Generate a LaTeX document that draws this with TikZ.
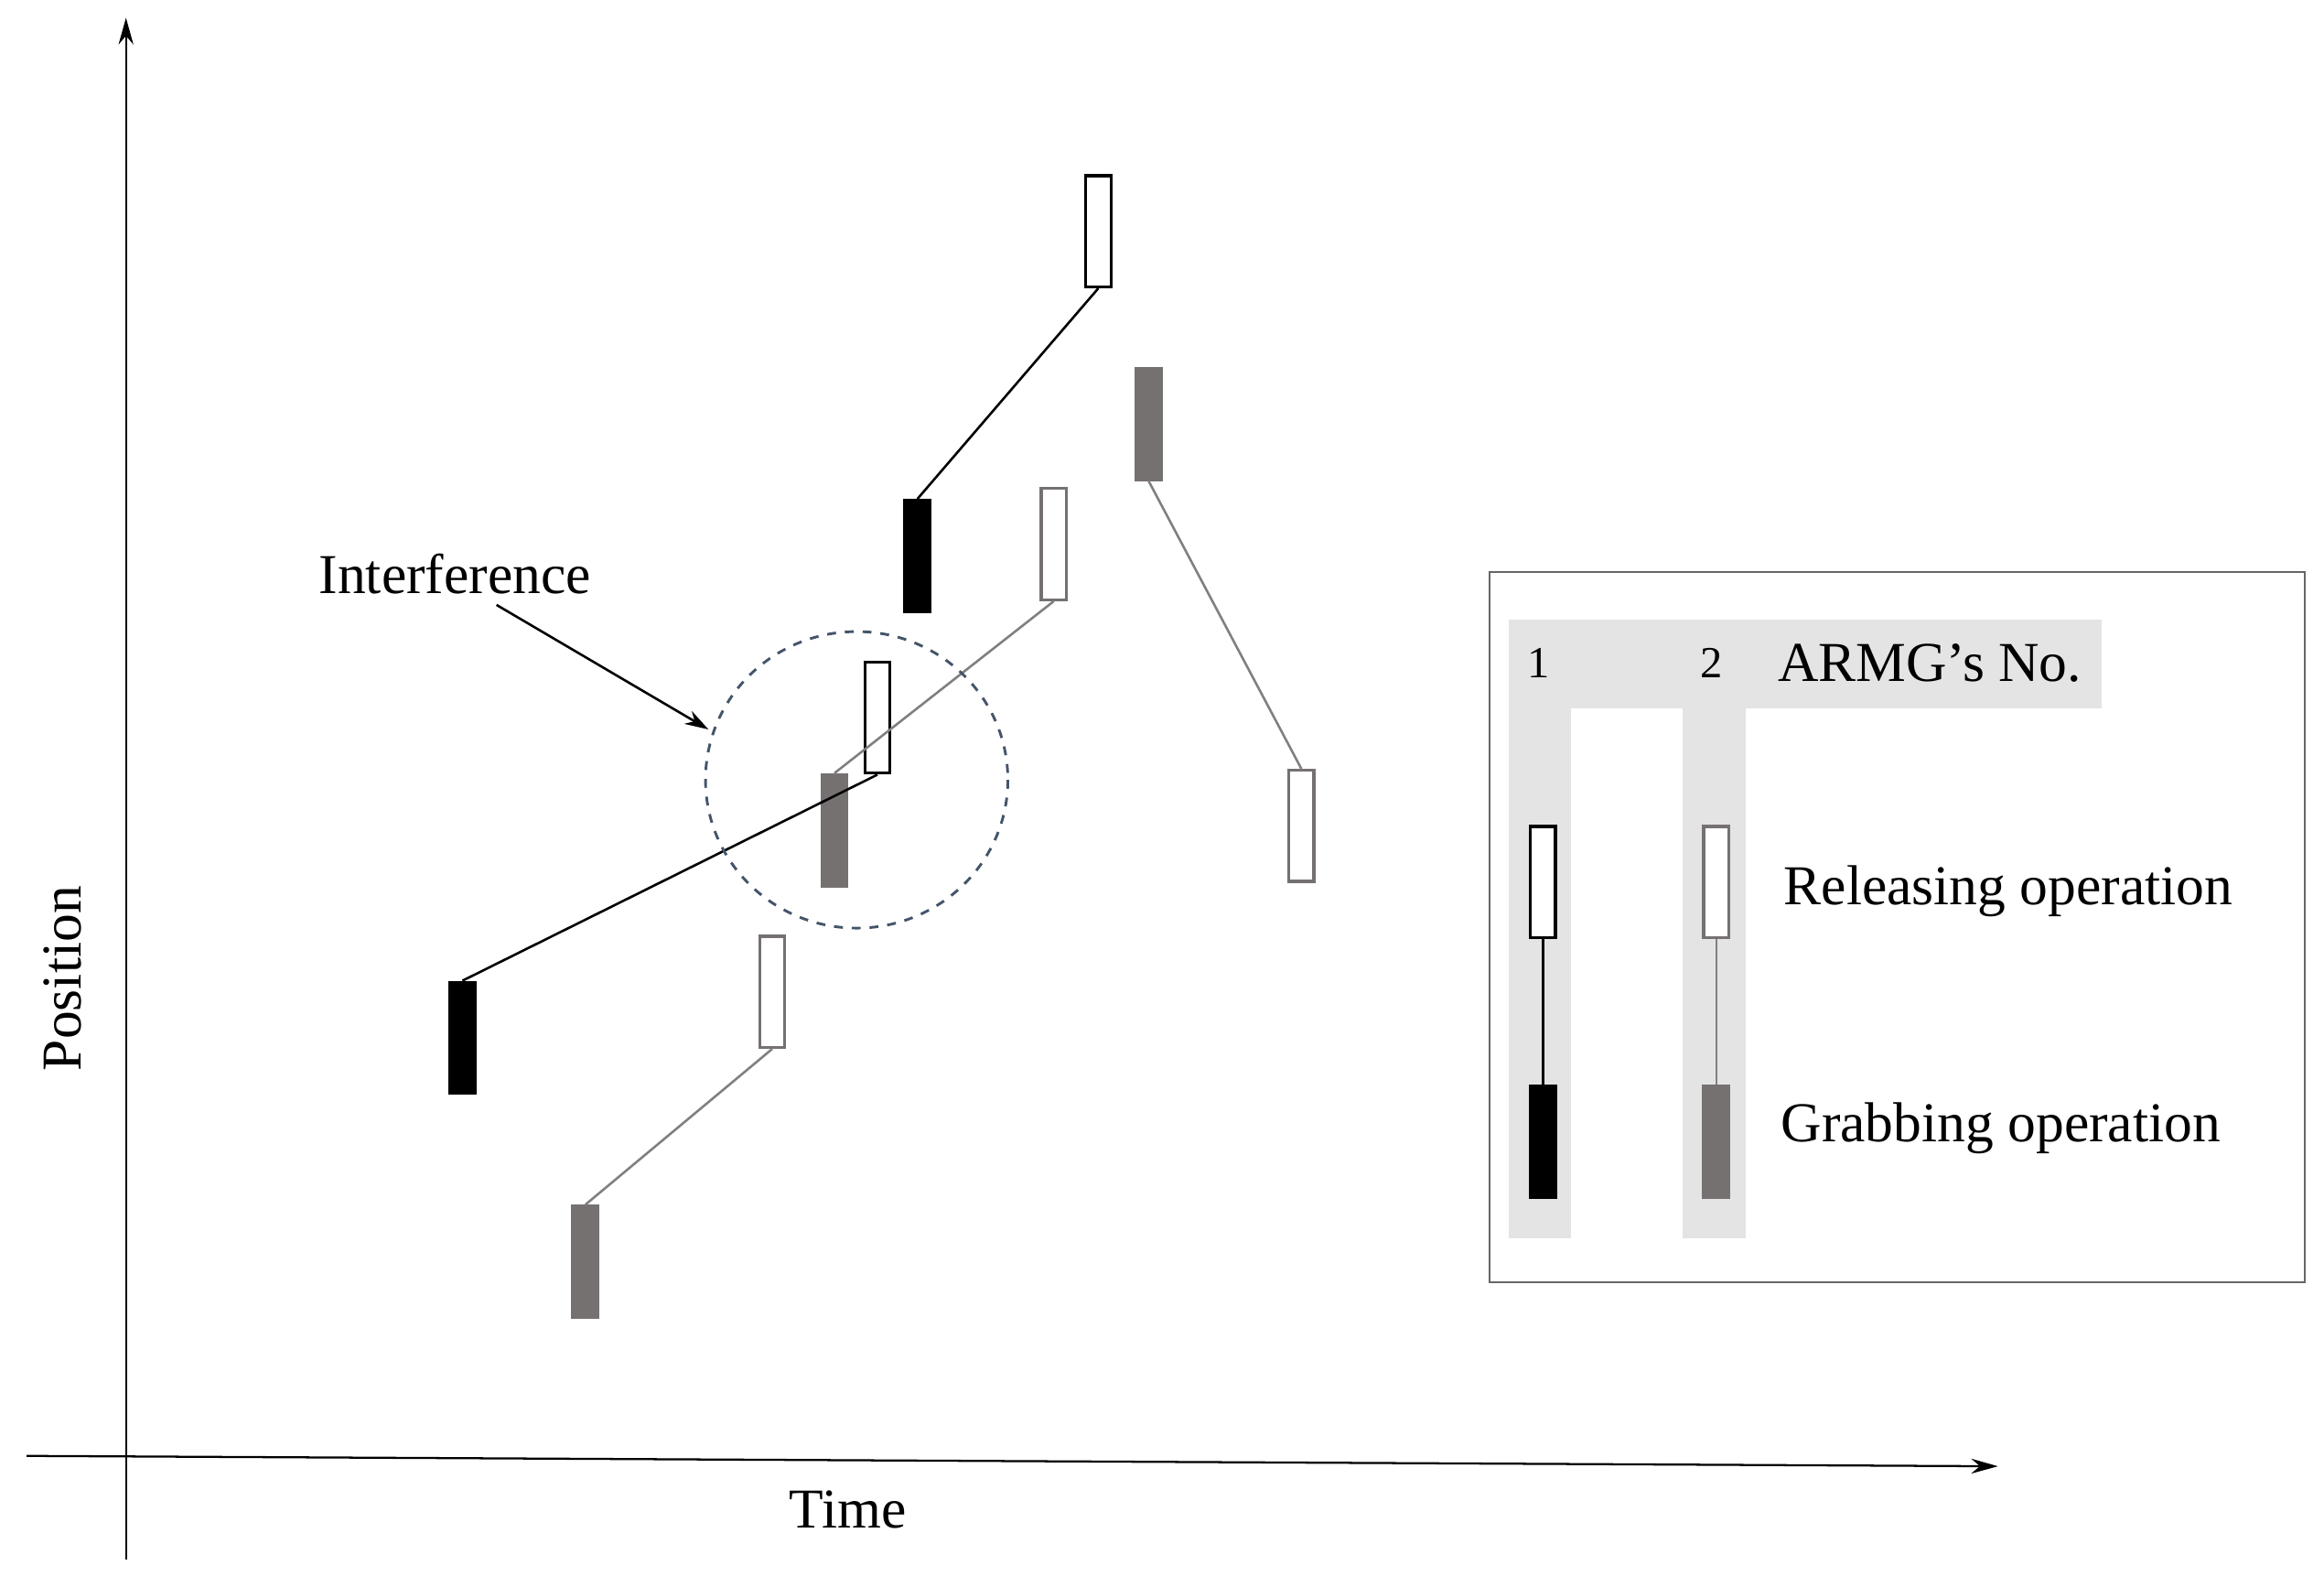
\documentclass[tikz,border=0pt]{standalone}
\usepackage{fontspec}
\setmainfont{Liberation Serif}
\usetikzlibrary{arrows.meta}
\definecolor{gbar}{HTML}{767171}
\definecolor{lgray}{HTML}{E4E4E4}
\definecolor{circ}{HTML}{44546A}
\begin{document}
\begin{tikzpicture}[x=0.5pt,y=-0.5pt,
  bar/.style={minimum width=8.5pt,minimum height=37.5pt,inner sep=0,line width=1pt},
  bk/.style={bar,draw=black,fill=black},
  bw/.style={bar,draw=black,fill=white},
  gk/.style={bar,draw=gbar,fill=gbar},
  gw/.style={bar,draw=gbar,fill=white},
  l1/.style={draw=black,line width=0.8pt},
  l2/.style={draw=gray,line width=0.8pt},
  txt/.style={font=\fontsize{19}{22}\selectfont,inner sep=0}]
\useasboundingbox (0,0) rectangle (1568,1070);
% axes
\coordinate (yb) at (85,1052); \coordinate (yt) at (85,12);
\coordinate (xl) at (18,982); \coordinate (xr) at (1348,989);
\draw[-{Stealth[length=9pt,width=5pt]},line width=0.7pt] (yb) -- (yt);
\draw[-{Stealth[length=9pt,width=5pt]},line width=0.7pt] (xl) -- (xr);
\node[txt,rotate=90] (pos) at (42,660) {Position};
\node[txt] (time) at (572,1018) {Time};
% bars
\node[bk] (a1) at (312,700) {};
\node[bk] (a2) at (619,375) {};
\node[bw] (r1) at (741,156) {};
\node[bw] (r2) at (592,484) {};
\node[gk] (g1) at (775,286) {};
\node[gk] (g2) at (563,560) {};
\node[gk] (g3) at (395,851) {};
\node[gw] (w1) at (711,367) {};
\node[gw] (w2) at (878,557) {};
\node[gw] (w3) at (521,669) {};
% lines
\draw[l2] (g3.north) -- (w3.south);
\draw[l2] (g2.north) -- (w1.south);
\draw[l2] (g1.south) -- (w2.north);
\draw[l1] (a1.north) -- (r2.south);
\draw[l1] (a2.north) -- (r1.south);
% interference
\draw[circ,dashed,line width=0.9pt] (578,526) ellipse [x radius=102,y radius=100];
\node[txt] (int) at (307,387) {Interference};
\coordinate (ie) at (478,492);
\draw[-{Stealth[length=8pt,width=5pt]},line width=0.8pt] (335,408) -- (ie);
% legend
\node[draw=gray!80!black,line width=0.7pt,minimum width=275pt,minimum height=239.5pt,inner sep=0] (leg) at (1280,625.5) {};
\fill[lgray] (1018,418) rectangle (1418,478);
\fill[lgray] (1018,418) rectangle (1060,835);
\fill[lgray] (1135,418) rectangle (1178,835);
\node[txt] (n1) at (1038,447) {\fontsize{15}{18}\selectfont 1};
\node[txt] (n2) at (1155,447) {\fontsize{15}{18}\selectfont 2};
\node[txt] (no) at (1302,447) {ARMG’s No.};
\node[bw] (lr1) at (1041,595) {};
\node[bk] (lg1) at (1041,770) {};
\node[gw] (lr2) at (1158,595) {};
\node[gk] (lg2) at (1158,770) {};
\draw[l1] (lr1.south) -- (lg1.north);
\draw[l2] (lr2.south) -- (lg2.north);
\node[txt] (rel) at (1355,601) {Releasing operation};
\node[txt] (gra) at (1350,761) {Grabbing operation};
\end{tikzpicture}
\end{document}
